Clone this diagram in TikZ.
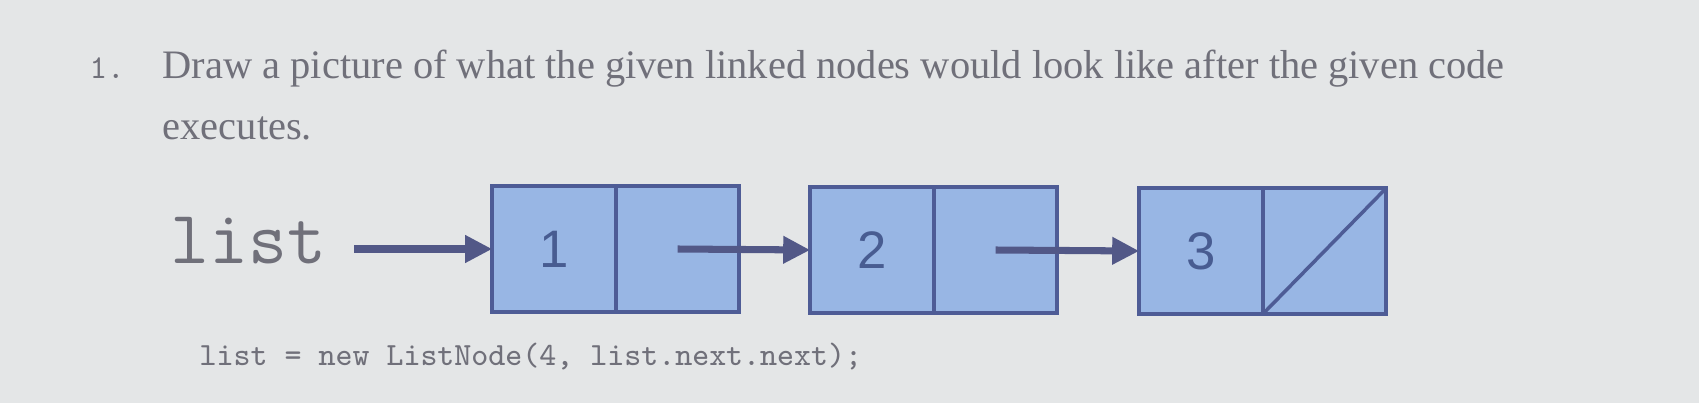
\documentclass[tikz,border=0pt]{standalone}
\usepackage{fontspec}
\setmainfont{Liberation Serif}
\newfontfamily\numfont{Liberation Sans}
\usepackage{xcolor}
\usepackage{tikz}
\definecolor{paper}{RGB}{228, 230, 231}
\definecolor{inkgray}{RGB}{112, 112, 122}
\definecolor{cellblue}{RGB}{152, 182, 228}
\definecolor{edgeblue}{RGB}{78, 92, 150}
\definecolor{arrowslate}{RGB}{82, 88, 135}
\definecolor{digitblue}{RGB}{72, 92, 145}
\usetikzlibrary{arrows.meta,positioning}

\begin{document}
\begin{tikzpicture}[
    x=0.01cm, y=-0.01cm,
    cell/.style={
        rectangle,
        draw=edgeblue,
        fill=cellblue,
        line width=1.2pt,
        minimum width=1.235cm,
        minimum height=1.26cm,
        outer sep=0pt,
        inner sep=0pt,
        font=\numfont\fontsize{15}{18}\selectfont,
        text=digitblue
    },
    ptr/.style={
        draw=arrowslate,
        line width=2pt,
        -{Triangle[length=2.7mm,width=2.6mm]}
    }
]
    % Page
    \useasboundingbox (0,0) rectangle (1699,403);
    \fill[paper] (0,0) rectangle (1699,403);

    % Question
    \node[anchor=base west, inner sep=0pt, font=\ttfamily\fontsize{9.5}{12}\selectfont, text=inkgray] (num) at (89,78) {1.};
    \node[anchor=base west, align=left, inner sep=0pt, font=\fontsize{11.5}{17.3}\selectfont, text=inkgray] (quest) at (162,139) {Draw a picture of what the given linked nodes would look like after the given code\\executes.};

    % Variable
    \node[anchor=base west, inner sep=0pt, font=\ttfamily\fontsize{21.5}{24}\selectfont, text=inkgray] (lst) at (170,263) {list};
    \coordinate (head) at (354,249);

    % Linked nodes
    \node[cell] (d1) at (554,249) {1};
    \node[cell, right=0pt of d1] (n1) {};
    \node[cell] (d2) at (872,250) {2};
    \node[cell, right=0pt of d2] (n2) {};
    \node[cell] (d3) at (1201,251) {3};
    \node[cell, right=0pt of d3] (n3) {};
    \draw[edgeblue, line width=1pt] (n3.south west) -- (n3.north east);

    % Pointers
    \draw[ptr] (head) -- (d1.west);
    \draw[ptr] (n1.center) -- (d2.west);
    \draw[ptr] (n2.center) -- (d3.west);

    % Code
    \node[anchor=base west, inner sep=0pt, font=\ttfamily\fontsize{9.2}{11}\selectfont, text=inkgray] (code) at (199,365) {list = new ListNode(4, list.next.next);};
\end{tikzpicture}
\end{document}
